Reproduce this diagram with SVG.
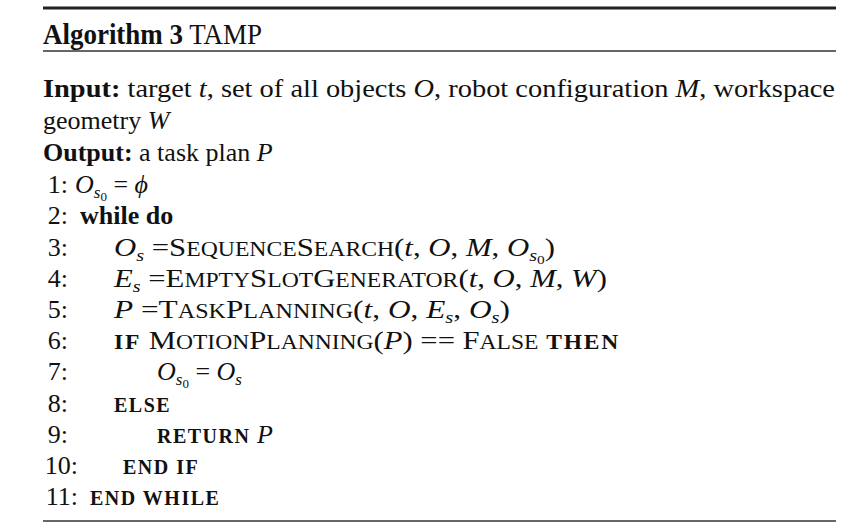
<svg xmlns="http://www.w3.org/2000/svg" width="867" height="531" viewBox="0 0 867 531">
<style>
text{font-family:"Liberation Serif","Times New Roman",serif;font-size:26px;fill:#111}
.b{font-weight:bold}
.i{font-style:italic}
.sc{font-size:20px}
.kw{font-size:20px;font-weight:bold;letter-spacing:1.5px}
.sub{font-size:17px;font-style:italic}
.sub2{font-size:13px}
.n{text-anchor:end}
</style>
<rect width="867" height="531" fill="#fff"/>
<line x1="43" y1="8" x2="836" y2="8" stroke="#222" stroke-width="3"/>
<line x1="43" y1="51" x2="836" y2="51" stroke="#333" stroke-width="1.5"/>
<line x1="43" y1="521" x2="836" y2="521" stroke="#333" stroke-width="1.5"/>
<text x="43" y="44" style="font-size:29px" textLength="219" lengthAdjust="spacingAndGlyphs"><tspan class="b">Algorithm 3</tspan> TAMP</text>
<text x="43" y="97" textLength="792" lengthAdjust="spacingAndGlyphs"><tspan class="b">Input:</tspan> target <tspan class="i">t</tspan>, set of all objects <tspan class="i">O</tspan>, robot configuration <tspan class="i">M</tspan>, workspace</text>
<text x="43" y="129">geometry <tspan class="i">W</tspan></text>
<text x="43" y="161"><tspan class="b">Output:</tspan> a task plan <tspan class="i">P</tspan></text>
<g>
<text class="n" x="68" y="193">1:</text>
<text x="75" y="193"><tspan class="i">O</tspan><tspan class="sub" dy="5">s</tspan><tspan class="sub2" dy="3">0</tspan><tspan dy="-8"> = </tspan><tspan class="i">ϕ</tspan></text>
<text class="n" x="68" y="224">2:</text>
<text x="80" y="224" class="b">while  do</text>
<text class="n" x="68" y="256">3:</text>
<text x="114" y="256" textLength="441" lengthAdjust="spacingAndGlyphs"><tspan class="i">O</tspan><tspan class="sub" dy="5">s</tspan><tspan dy="-5"> =S</tspan><tspan class="sc">EQUENCE</tspan>S<tspan class="sc">EARCH</tspan>(<tspan class="i">t</tspan>, <tspan class="i">O</tspan>, <tspan class="i">M</tspan>, <tspan class="i">O</tspan><tspan class="sub" dy="5">s</tspan><tspan class="sub2" dy="3">0</tspan><tspan dy="-8">)</tspan></text>
<text class="n" x="68" y="287">4:</text>
<text x="114" y="287" textLength="493" lengthAdjust="spacingAndGlyphs"><tspan class="i">E</tspan><tspan class="sub" dy="5">s</tspan><tspan dy="-5"> =E</tspan><tspan class="sc">MPTY</tspan>S<tspan class="sc">LOT</tspan>G<tspan class="sc">ENERATOR</tspan>(<tspan class="i">t</tspan>, <tspan class="i">O</tspan>, <tspan class="i">M</tspan>, <tspan class="i">W</tspan>)</text>
<text class="n" x="68" y="318">5:</text>
<text x="114" y="318" textLength="396" lengthAdjust="spacingAndGlyphs"><tspan class="i">P</tspan> =T<tspan class="sc">ASK</tspan>P<tspan class="sc">LANNING</tspan>(<tspan class="i">t</tspan>, <tspan class="i">O</tspan>, <tspan class="i">E</tspan><tspan class="sub" dy="5">s</tspan><tspan dy="-5">, </tspan><tspan class="i">O</tspan><tspan class="sub" dy="5">s</tspan><tspan dy="-5">)</tspan></text>
<text class="n" x="68" y="349">6:</text>
<text x="114" y="349" textLength="506" lengthAdjust="spacingAndGlyphs"><tspan class="kw">IF</tspan>  M<tspan class="sc">OTION</tspan>P<tspan class="sc">LANNING</tspan>(<tspan class="i">P</tspan>)  ==  F<tspan class="sc">ALSE</tspan>  <tspan class="kw">THEN</tspan></text>
<text class="n" x="68" y="380">7:</text>
<text x="157" y="380"><tspan class="i">O</tspan><tspan class="sub" dy="5">s</tspan><tspan class="sub2" dy="3">0</tspan><tspan dy="-8"> = </tspan><tspan class="i">O</tspan><tspan class="sub" dy="5">s</tspan></text>
<text class="n" x="68" y="412">8:</text>
<text x="114" y="412" class="kw">ELSE</text>
<text class="n" x="68" y="443">9:</text>
<text x="157" y="443"><tspan class="kw">RETURN</tspan>   <tspan class="i">P</tspan></text>
<text class="n" x="78" y="474">10:</text>
<text x="123" y="474" class="kw">END  IF</text>
<text class="n" x="78" y="505">11:</text>
<text x="90" y="505" class="kw">END  WHILE</text>
</g>
</svg>
